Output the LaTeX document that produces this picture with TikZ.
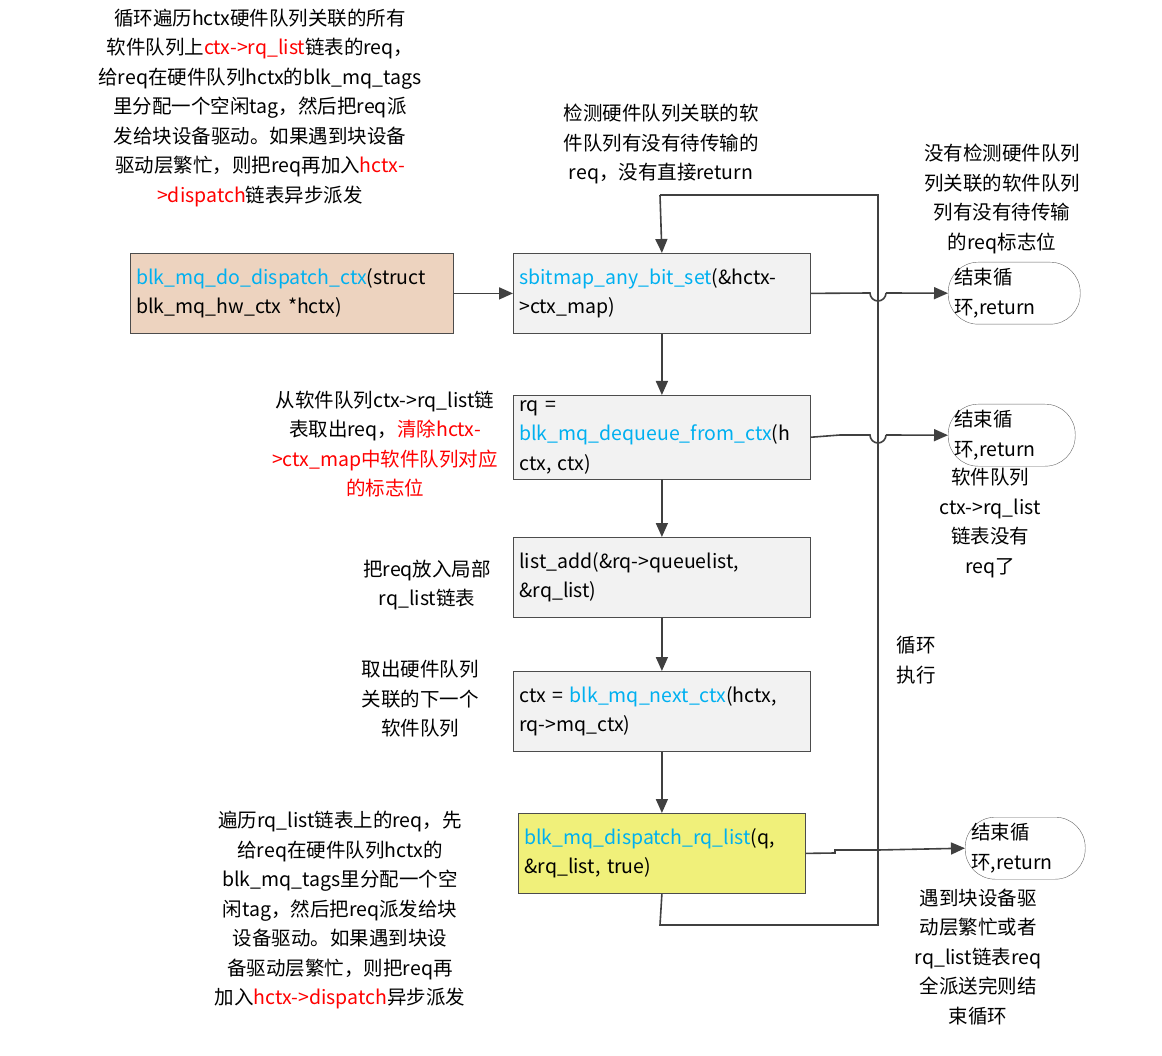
\documentclass[tikz,border=0pt]{standalone}
\usepackage{fontspec}
\setmainfont{Noto Sans CJK SC}
\usetikzlibrary{arrows.meta}
\definecolor{myblue}{HTML}{00B0F0}
\definecolor{boxgray}{HTML}{F2F2F2}
\definecolor{peach}{HTML}{EDD3BF}
\definecolor{yel}{HTML}{F0F07A}
\newcommand{\bl}[1]{\textcolor{myblue}{#1}}
\newcommand{\rd}[1]{\textcolor{red}{#1}}
\tikzset{
 x=1pt,y=-1pt,
 every node/.style={font=\fontsize{19.5}{29.5}\selectfont},
 fbox/.style={draw=black!70,line width=0.8pt,minimum width=297pt,minimum height=80pt,align=left,text width=285pt,inner sep=5pt,anchor=north west},
 endbox/.style={draw=black!60,rounded corners=30pt,minimum height=62pt,align=left,inner sep=2pt,anchor=north west},
 note/.style={align=center},
 arr/.style={-{Triangle[length=14pt,width=12pt]},line width=1.6pt,draw=black!75},
 ln/.style={line width=1.6pt,draw=black!75}
}
\begin{document}
\begin{tikzpicture}
\useasboundingbox (0,0) rectangle (1162,1056);
\node[fbox,fill=peach,minimum width=323pt,text width=311pt] (A) at (130,253) {\bl{blk\_mq\_do\_dispatch\_ctx}(struct\\blk\_mq\_hw\_ctx *hctx)};
\node[fbox,fill=boxgray] (B) at (513,253) {\bl{sbitmap\_any\_bit\_set}(\&hctx-\\>ctx\_map)};
\node[fbox,fill=boxgray] (C) at (513,395) {rq =\\\bl{blk\_mq\_dequeue\_from\_ctx}(h\\ctx, ctx)};
\node[fbox,fill=boxgray] (D) at (513,537) {list\_add(\&rq->queuelist,\\\&rq\_list)};
\node[fbox,fill=boxgray] (E) at (513,671) {ctx = \bl{blk\_mq\_next\_ctx}(hctx,\\rq->mq\_ctx)};
\node[fbox,fill=yel,minimum width=287pt,text width=275pt] (F) at (518,813) {\bl{blk\_mq\_dispatch\_rq\_list}(q,\\\&rq\_list, true)};
\node[endbox,minimum width=132pt,text width=120pt] (G1) at (948,262) {结束循\\环,return};
\node[endbox,minimum width=127pt,text width=115pt] (G2) at (948,404) {结束循\\环,return};
\node[endbox,minimum width=120pt,text width=108pt] (G3) at (965,817) {结束循\\环,return};
% arrows
\draw[arr] (A.east) -- (B.west);
\draw[arr] (B.south) -- (C.north);
\draw[arr] (C.south) -- (D.north);
\draw[arr] (D.south) -- (E.north);
\draw[arr] (E.south) -- (F.north);
\coordinate (L1) at (660,925);
\coordinate (L2) at (878,925);
\coordinate (L3) at (878,195);
\coordinate (L4) at (660,195);
\draw[ln] (F.south) -- (L1) -- (L2) -- (L3) -- (L4);
\draw[arr] (L4) -- (B.north);
\draw[ln] (B.east) -- (870,293) arc[start angle=180,end angle=0,radius=8];
\draw[arr] (886,293) -- (G1.west);
\draw[ln] (C.east) -- (840,435) -- (870,435) arc[start angle=180,end angle=0,radius=8];
\draw[arr] (886,435) -- (G2.west);
\draw[ln] (F.east) -- (835,853) -- (835,850) -- (878,850);
\draw[arr] (878,850) -- (G3.west);
% notes
\node[note] (n1) at (260,108) {循环遍历hctx硬件队列关联的所有\\软件队列上\rd{ctx->rq\_list}链表的req，\\给req在硬件队列hctx的blk\_mq\_tags\\里分配一个空闲tag，然后把req派\\发给块设备驱动。如果遇到块设备\\驱动层繁忙，则把req再加入\rd{hctx-}\\\rd{>dispatch}链表异步派发};
\node[note] (n2) at (661,144) {检测硬件队列关联的软\\件队列有没有待传输的\\req，没有直接return};
\node[note] (n3) at (1002,199) {没有检测硬件队列\\列关联的软件队列\\列有没有待传输\\的req标志位};
\node[note] (n4) at (385,444) {从软件队列ctx->rq\_list链\\表取出req，\rd{清除hctx-}\\\rd{>ctx\_map中软件队列对应}\\\rd{的标志位}};
\node[note] (n5) at (990,523) {软件队列\\ctx->rq\_list\\链表没有\\req了};
\node[note] (n6) at (427,585) {把req放入局部\\rq\_list链表};
\node[note] (n7) at (420,699) {取出硬件队列\\关联的下一个\\软件队列};
\node[note] (n8) at (916,660) {循环\\执行};
\node[note] (n9) at (340,910) {遍历rq\_list链表上的req，先\\给req在硬件队列hctx的\\blk\_mq\_tags里分配一个空\\闲tag，然后把req派发给块\\设备驱动。如果遇到块设\\备驱动层繁忙，则把req再\\加入\rd{hctx->dispatch}异步派发};
\node[note] (n10) at (978,957) {遇到块设备驱\\动层繁忙或者\\rq\_list链表req\\全派送完则结\\束循环};
\end{tikzpicture}
\end{document}
